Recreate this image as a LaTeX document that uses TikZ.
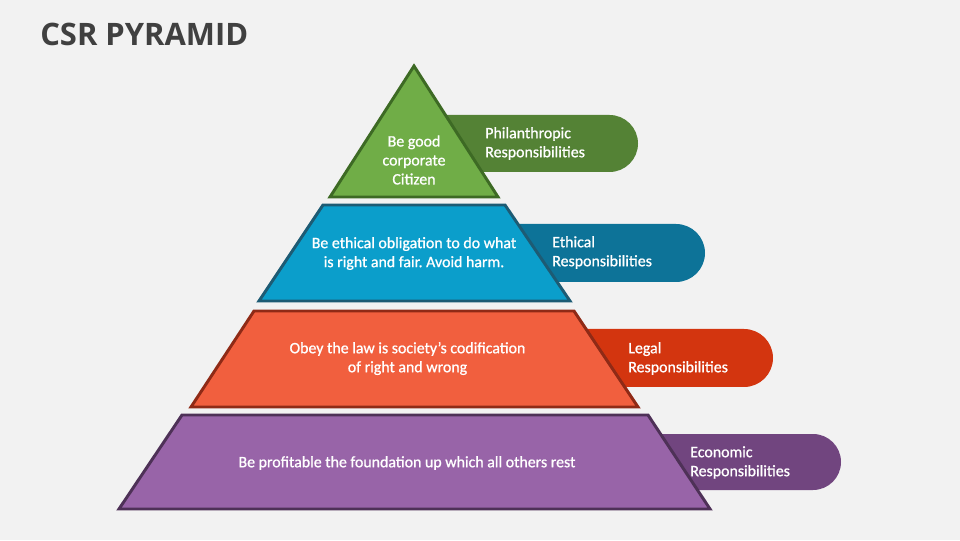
\documentclass[tikz,border=0pt]{standalone}
\usepackage{fontspec}
\setmainfont{Carlito}
\newfontfamily\labelfont[FakeBold=0.9]{Carlito}
\newfontfamily\titlefont{Open Sans}
\usepackage{xcolor}
\usepackage{tikz}
\usetikzlibrary{positioning,calc}
\frenchspacing
\definecolor{cBack}{HTML}{F2F2F2}
\definecolor{cTitle}{HTML}{404040}
\definecolor{cGreen}{HTML}{70AD47}
\definecolor{cGreenLine}{HTML}{3D6A24}
\definecolor{cGreenTab}{HTML}{548235}
\definecolor{cBlue}{HTML}{0B9ECB}
\definecolor{cBlueLine}{HTML}{1D5B74}
\definecolor{cBlueTab}{HTML}{0D7398}
\definecolor{cOrange}{HTML}{F15F3E}
\definecolor{cOrangeLine}{HTML}{8F2A16}
\definecolor{cOrangeTab}{HTML}{D3350F}
\definecolor{cPurple}{HTML}{9864A8}
\definecolor{cPurpleLine}{HTML}{4E3157}
\definecolor{cPurpleTab}{HTML}{71457F}
\tikzset{
  csr/level/.style  ={line width=2.1pt, line join=miter},
  csr/text/.style   ={font=\labelfont\fontsize{11.3}{13.5}\selectfont\frenchspacing, text=white,
                      align=center, inner sep=0pt},
  csr/tabtext/.style={csr/text, align=left, anchor=west},
  csr/title/.style  ={font=\titlefont\bfseries\fontsize{22}{26}\selectfont,
                      text=cTitle, anchor=west, inner sep=0pt}
}

\begin{document}
\begin{tikzpicture}[x=0.025cm, y=0.025cm]
    \fill[cBack] (0,0) rectangle (960,540);
    \node[csr/title] (title) at (40,506) {CSR PYRAMID};

    % tabs first, the levels cover their left ends
    \foreach \col/\yb/\yt/\xr in {cGreenTab/368/425/638, cBlueTab/258/316/705,
                                  cOrangeTab/153/211/773, cPurpleTab/50/106/841} {
      \pgfmathsetmacro{\r}{(\yt-\yb)/2}
      \fill[\col] (414,\yb) -- (\xr-\r,\yb)
        arc[start angle=-90, end angle=90, radius=\r] -- (414,\yt) -- cycle;
    }

    % the four levels
    \draw[csr/level, fill=cGreen,  draw=cGreenLine]  (414,474) -- (498,343) -- (330,343) -- cycle;
    \draw[csr/level, fill=cBlue,   draw=cBlueLine]   (323,335) -- (505,335) -- (570,239) -- (259,239) -- cycle;
    \draw[csr/level, fill=cOrange, draw=cOrangeLine] (254,229) -- (574,229) -- (638,133) -- (191,133) -- cycle;
    \draw[csr/level, fill=cPurple, draw=cPurpleLine] (182,125) -- (648,125) -- (710,31) -- (119,31) -- cycle;

    % texts inside the levels
    \node[csr/text] (good)   at (414,380)   {Be good\\corporate\\Citizen};
    \node[csr/text] (ethic)  at (414,286.5) {Be ethical obligation to do what\\is right and fair. Avoid harm.};
    \node[csr/text] (law)    at (407.5,181.5) {Obey the law is society’s codification\\of right and wrong};
    \node[csr/text] (profit) at (407,77)    {Be profitable the foundation up which all others rest};

    % tab labels
    \node[csr/tabtext] (phil) at (485,396.5) {Philanthropic\\Responsibilities};
    \node[csr/tabtext] (eth)  at (552,287.5) {Ethical\\Responsibilities};
    \node[csr/tabtext] (leg)  at (628,181.5) {Legal\\Responsibilities};
    \node[csr/tabtext] (eco)  at (690,77.5)  {Economic\\Responsibilities};
\end{tikzpicture}
\end{document}
